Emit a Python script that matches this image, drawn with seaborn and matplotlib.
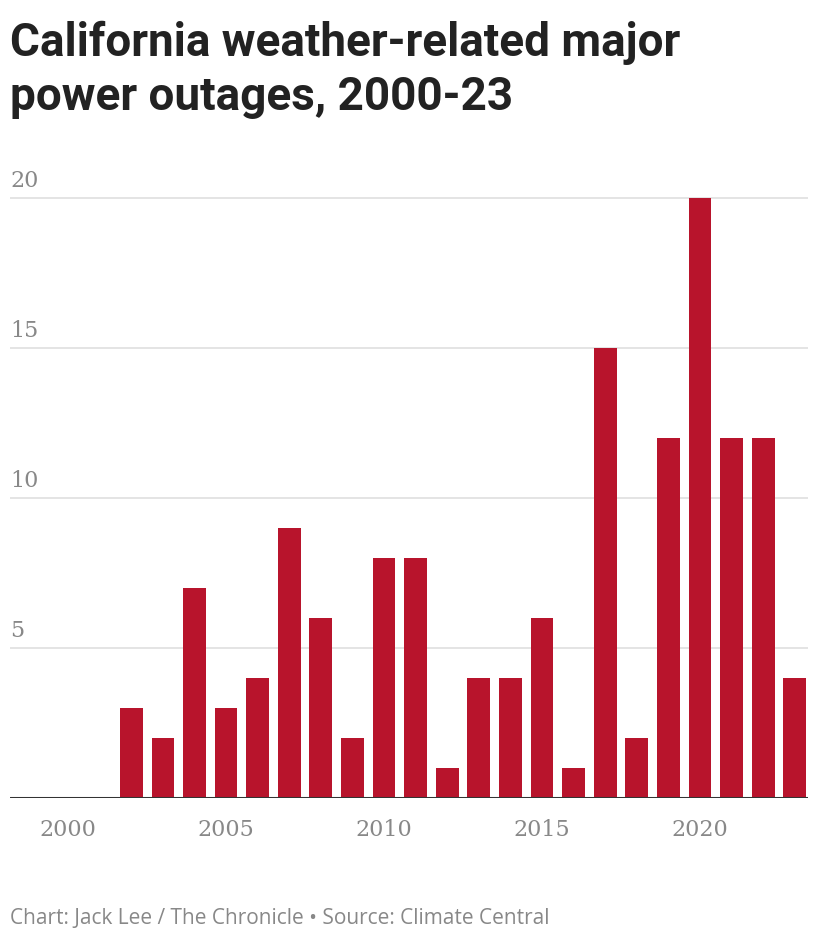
import matplotlib
matplotlib.use("Agg")
import matplotlib.pyplot as plt
import seaborn as sns
import pandas as pd

# Data
years = list(range(2000, 2024))
outages = [0, 0, 3, 2, 7, 3, 4, 9, 6, 2, 8, 8, 1, 4, 4, 6, 1, 15, 2, 12, 20, 12, 12, 4]
year_ticks = [2000, 2005, 2010, 2015, 2020]
y_ticks = [5, 10, 15, 20]

df = pd.DataFrame({"year": years, "outages": outages})

sns.set_theme(style="white")
plt.rcParams["font.family"] = ["Roboto", "DejaVu Sans"]

fig = plt.figure(figsize=(8.2, 9.46), dpi=100)
W, H = 820, 946
ax = fig.add_axes([10 / W, 1 - 798 / H, (808 - 10) / W, (798 - 189) / H])

sns.barplot(data=df, x="year", y="outages", color="#b8142c", width=0.72,
            saturation=1, linewidth=0, edgecolor="none", ax=ax, zorder=2)

ax.set_xlim(-1.84, 23.42)
ax.set_ylim(0, 20.3)

# gridlines
for v in y_ticks:
    ax.axhline(v, color="#e2e2e2", lw=1.3, zorder=1)
ax.axhline(0, color="#333333", lw=2.2, zorder=3)

# y labels sit above the gridlines at the left edge
ax.set_yticks([])
for v in y_ticks:
    ax.text(0.0, v + 0.2, str(v), transform=ax.get_yaxis_transform(),
            ha="left", va="bottom", fontsize=16, color="#888888",
            family=["DejaVu Serif"])

pos = [years.index(y) for y in year_ticks]
ax.set_xticks(pos)
ax.set_xticklabels([str(y) for y in year_ticks], fontsize=16, color="#888888",
                   family=["DejaVu Serif"])
ax.tick_params(axis="x", length=0, pad=15)
ax.set_xlabel("")
ax.set_ylabel("")
sns.despine(ax=ax, left=True, bottom=True, top=True, right=True)

fig.text(10 / W, 1 - 21 / H, "California weather-related major\npower outages, 2000-23",
         ha="left", va="top", fontsize=33, fontweight="bold", color="#222222",
         linespacing=1.28)
fig.text(10 / W, 1 - 918 / H, "Chart: Jack Lee / The Chronicle \u2022 Source: Climate Central",
         ha="left", va="center", fontsize=15, color="#888888",
         family=["Open Sans", "DejaVu Sans"])

fig.savefig("out.png", dpi=100)
